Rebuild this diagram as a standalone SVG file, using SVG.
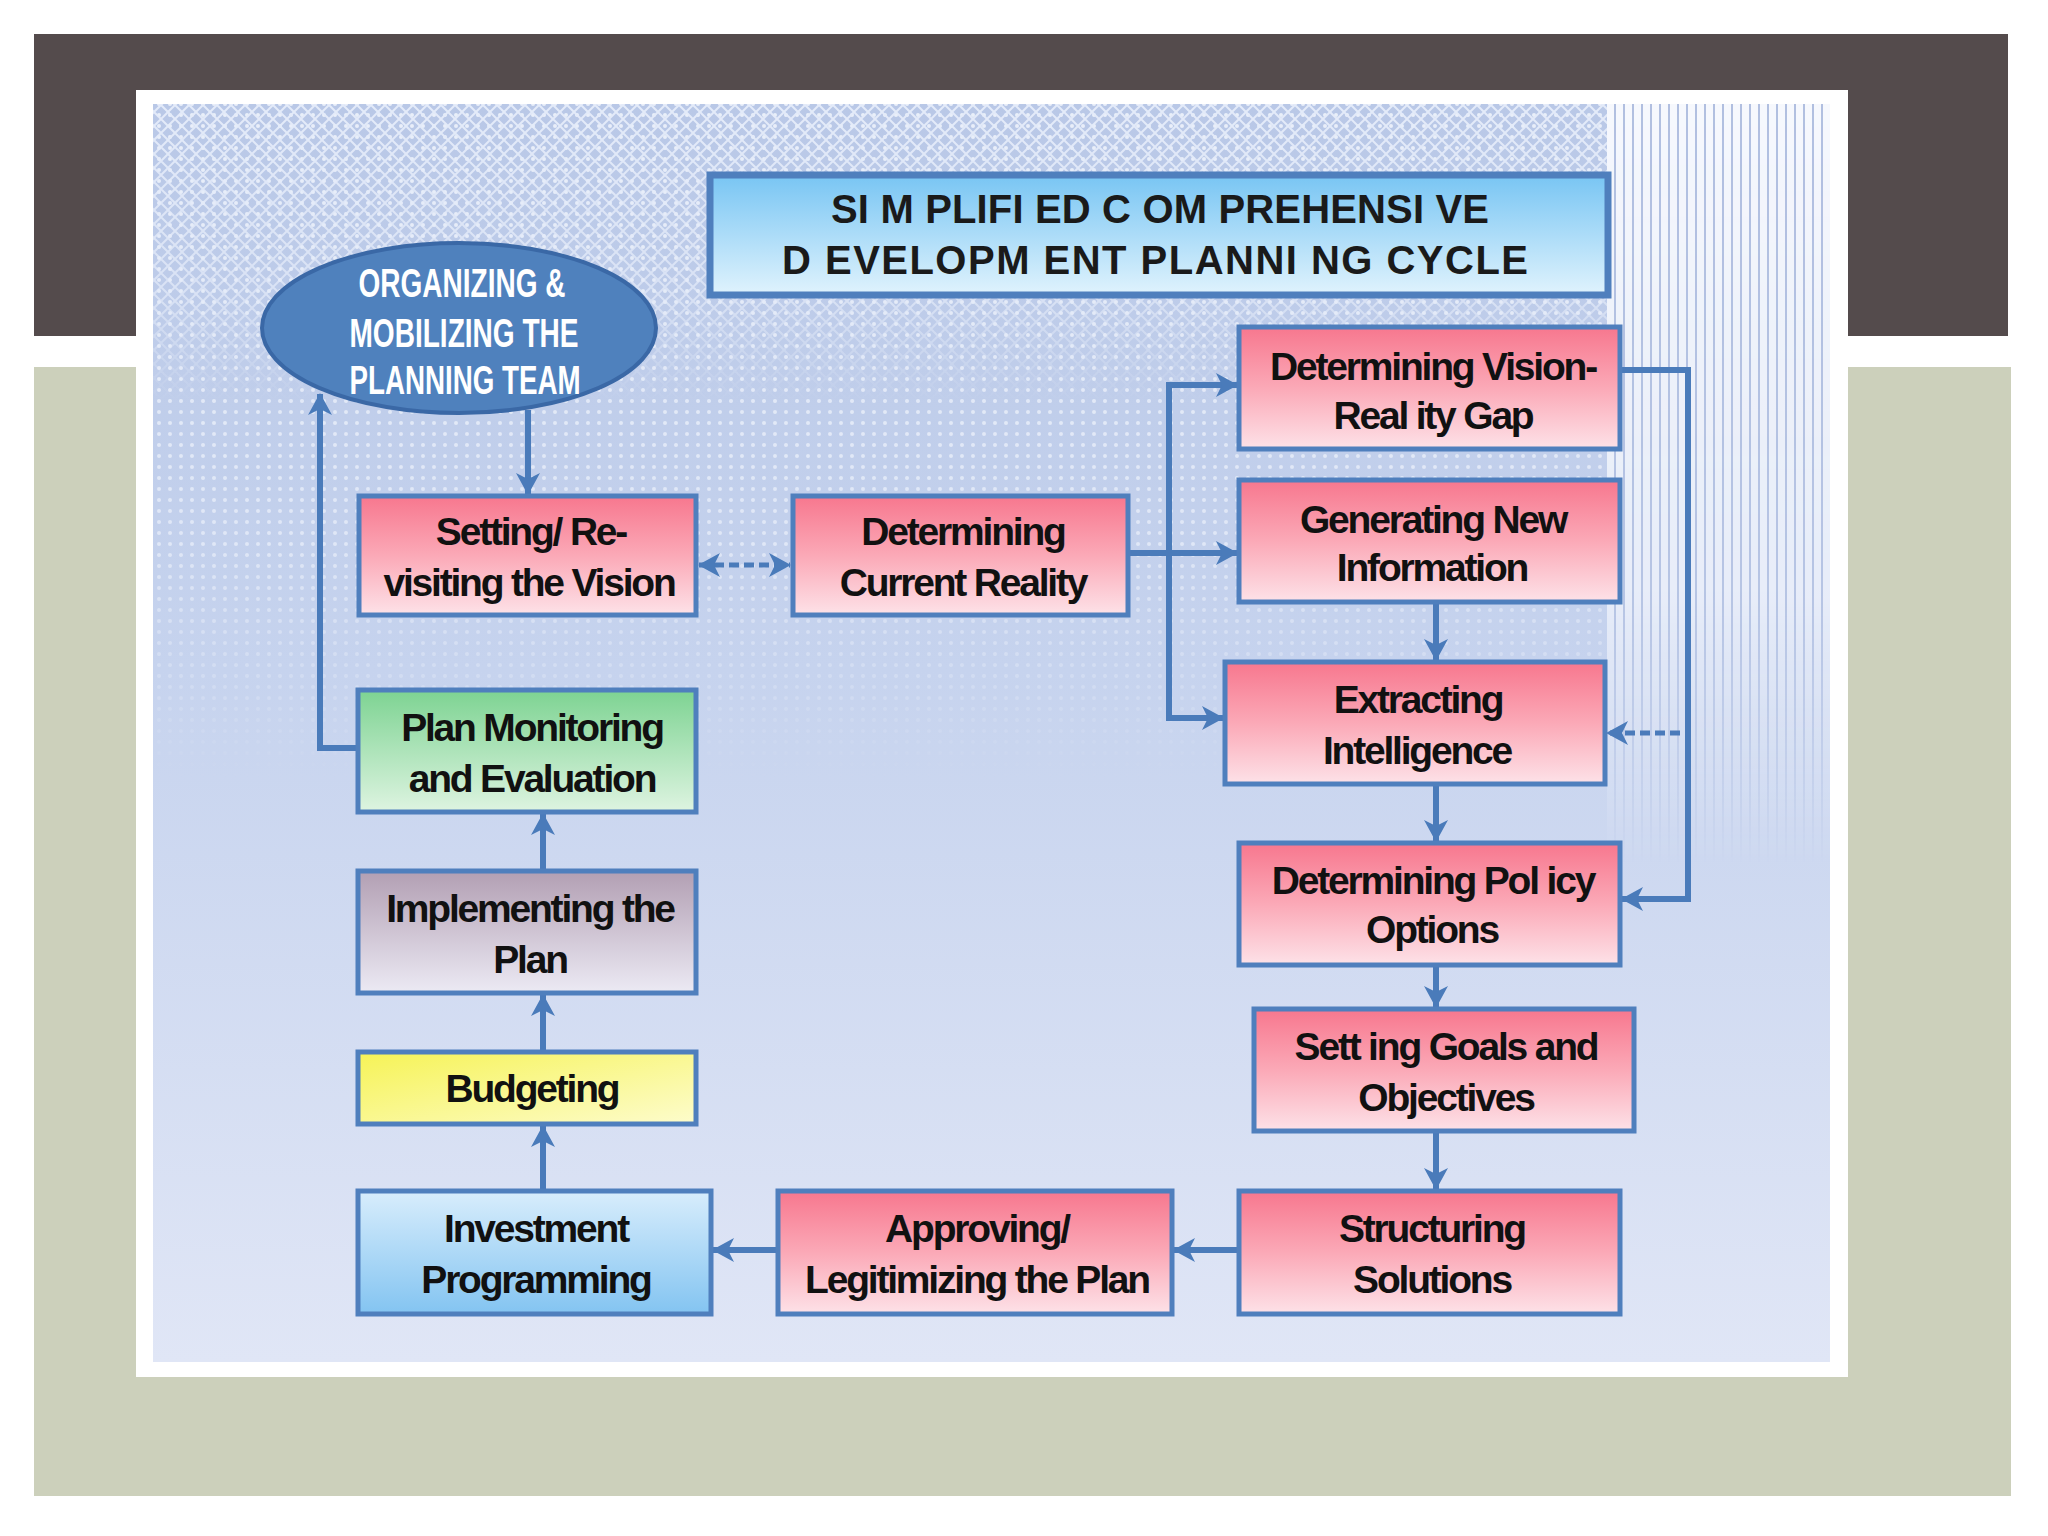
<svg xmlns="http://www.w3.org/2000/svg" width="2048" height="1536" viewBox="0 0 2048 1536">
<style>
.node{stroke:#4f7fbd;stroke-width:5}
.t{font-family:"Liberation Sans",Arial,sans-serif;font-weight:bold;font-size:39px;letter-spacing:-2.2px;fill:#111;text-anchor:middle}
.et{font-family:"Liberation Sans",Arial,sans-serif;font-weight:bold;font-size:40px;fill:#fff;text-anchor:middle}
.tt{font-family:"Liberation Sans",Arial,sans-serif;font-weight:bold;font-size:40px;fill:#1a1a1a;text-anchor:middle}
.c{fill:none;stroke:#4a7bba;stroke-width:6}
.d{stroke-dasharray:10 5;stroke-width:5}
</style>
<defs>
<linearGradient id="gPanel" x1="0" y1="0" x2="0" y2="1">
<stop offset="0" stop-color="#b9c8e7"/><stop offset="0.45" stop-color="#c6d3ee"/><stop offset="1" stop-color="#e0e6f6"/>
</linearGradient>
<linearGradient id="gPink" x1="0" y1="0" x2="0" y2="1">
<stop offset="0" stop-color="#f7778e"/><stop offset="0.5" stop-color="#fba9b7"/><stop offset="1" stop-color="#fde2e8"/>
</linearGradient>
<linearGradient id="gGreen" x1="0" y1="0" x2="0" y2="1">
<stop offset="0" stop-color="#7dd392"/><stop offset="1" stop-color="#def4e1"/>
</linearGradient>
<linearGradient id="gYellow" x1="0" y1="0" x2="1" y2="1">
<stop offset="0" stop-color="#f6f356"/><stop offset="1" stop-color="#fdfccc"/>
</linearGradient>
<linearGradient id="gMauve" x1="0" y1="0" x2="0" y2="1">
<stop offset="0" stop-color="#b29fb3"/><stop offset="1" stop-color="#eceaf4"/>
</linearGradient>
<linearGradient id="gInv" x1="0" y1="0" x2="0" y2="1">
<stop offset="0" stop-color="#d8edfc"/><stop offset="1" stop-color="#83c4f1"/>
</linearGradient>
<linearGradient id="gTitle" x1="0" y1="0" x2="0" y2="1">
<stop offset="0" stop-color="#78c5f3"/><stop offset="1" stop-color="#e0f3fd"/>
</linearGradient>
<linearGradient id="gFade" x1="0" y1="0" x2="0" y2="1">
<stop offset="0" stop-color="#fff"/><stop offset="0.65" stop-color="#fff" stop-opacity="0.7"/><stop offset="1" stop-color="#fff" stop-opacity="0"/>
</linearGradient>
<mask id="mDots" maskUnits="userSpaceOnUse" x="153" y="104" width="1454" height="680">
<rect x="153" y="104" width="1454" height="680" fill="url(#gFade)"/>
</mask>
<mask id="mHatch" maskUnits="userSpaceOnUse" x="153" y="104" width="1454" height="300">
<rect x="153" y="104" width="1454" height="300" fill="url(#gFade)"/>
</mask>
<mask id="mStripe" maskUnits="userSpaceOnUse" x="1607" y="104" width="223" height="760">
<rect x="1607" y="104" width="223" height="760" fill="url(#gFade)"/>
</mask>
<pattern id="pDots" width="11" height="11" patternUnits="userSpaceOnUse">
<circle cx="5" cy="5" r="2" fill="#f2f6fd" fill-opacity="0.85"/>
</pattern>
<pattern id="pHatch" width="14" height="14" patternUnits="userSpaceOnUse">
<path d="M0,0 L14,14 M14,0 L0,14" stroke="#e4ebf9" stroke-width="2"/>
</pattern>
<pattern id="pStripe" width="9" height="20" patternUnits="userSpaceOnUse">
<rect width="9" height="20" fill="#f6f8fd"/>
<rect x="3" width="2" height="20" fill="#b1bfe0"/>
</pattern>
<marker id="ah" markerUnits="userSpaceOnUse" markerWidth="22" markerHeight="24" refX="21" refY="12" orient="auto-start-reverse">
<path d="M0,0 L22,12 L0,24 L6,12 z" fill="#4a7bba"/>
</marker>
</defs>

<g id="background">
<rect width="2048" height="1536" fill="#ffffff"/>
<rect x="34" y="34" width="1974" height="302" fill="#544b4c"/>
<rect x="34" y="367" width="1977" height="1129" fill="#ccd0bb"/>
<rect x="136" y="90" width="1712" height="1287" fill="#ffffff"/>
<rect x="153" y="104" width="1677" height="1258" fill="url(#gPanel)"/>
<rect x="153" y="104" width="1454" height="680" fill="url(#pDots)" mask="url(#mDots)"/>
<rect x="153" y="104" width="1454" height="300" fill="url(#pHatch)" mask="url(#mHatch)"/>
<rect x="1607" y="104" width="223" height="760" fill="url(#pStripe)" mask="url(#mStripe)"/>
</g>

<g id="title">
<rect x="710" y="175" width="898" height="120" fill="url(#gTitle)" stroke="#4f7fbd" stroke-width="7"/>
<text class="tt" x="1160" y="223" textLength="658" lengthAdjust="spacing">SI M PLIFI ED C OM PREHENSI VE</text>
<text class="tt" x="1155" y="274" textLength="746" lengthAdjust="spacing">D EVELOPM ENT PLANNI NG CYCLE</text>
</g>

<g id="connectors">
<path class="c" d="M528,410 V494" marker-end="url(#ah)"/>
<path class="c d" d="M699,565 H790" marker-start="url(#ah)" marker-end="url(#ah)"/>
<path class="c" d="M1128,553 H1237" marker-end="url(#ah)"/>
<path class="c" d="M1169,385 V721"/>
<path class="c" d="M1166,385 H1237" marker-end="url(#ah)"/>
<path class="c" d="M1166,718 H1223" marker-end="url(#ah)"/>
<path class="c" d="M1620,370 H1688 V899 H1622" marker-end="url(#ah)"/>
<path class="c d" d="M1680,733 H1607" marker-end="url(#ah)"/>
<path class="c" d="M1436,602 V660" marker-end="url(#ah)"/>
<path class="c" d="M1436,784 V841" marker-end="url(#ah)"/>
<path class="c" d="M1436,965 V1007" marker-end="url(#ah)"/>
<path class="c" d="M1436,1131 V1189" marker-end="url(#ah)"/>
<path class="c" d="M1239,1250 H1174" marker-end="url(#ah)"/>
<path class="c" d="M778,1250 H713" marker-end="url(#ah)"/>
<path class="c" d="M543,1191 V1126" marker-end="url(#ah)"/>
<path class="c" d="M543,1052 V995" marker-end="url(#ah)"/>
<path class="c" d="M543,871 V814" marker-end="url(#ah)"/>
<path class="c" d="M358,748 H320 V394" marker-end="url(#ah)"/>
</g>

<g id="organizing">
<ellipse cx="459" cy="328" rx="197" ry="85" fill="#4f81bd" stroke="#3a68a6" stroke-width="4"/>
<text class="et" x="462" y="297" textLength="207" lengthAdjust="spacingAndGlyphs">ORGANIZING &amp;</text>
<text class="et" x="464" y="347" textLength="229" lengthAdjust="spacingAndGlyphs">MOBILIZING THE</text>
<text class="et" x="465" y="394" textLength="231" lengthAdjust="spacingAndGlyphs">PLANNING TEAM</text>
</g>

<g id="setting-vision">
<rect class="node" x="359" y="496" width="337" height="119" fill="url(#gPink)"/>
<text class="t" x="531" y="545">Setting/ Re-</text>
<text class="t" x="529" y="596">visiting the Vision</text>
</g>

<g id="current-reality">
<rect class="node" x="793" y="496" width="335" height="119" fill="url(#gPink)"/>
<text class="t" x="963" y="545">Determining</text>
<text class="t" x="963" y="596">Current Reality</text>
</g>

<g id="vision-gap">
<rect class="node" x="1239" y="327" width="381" height="122" fill="url(#gPink)"/>
<text class="t" x="1433" y="380">Determining Vision-</text>
<text class="t" x="1433" y="429">Real ity Gap</text>
</g>

<g id="generating">
<rect class="node" x="1239" y="480" width="381" height="122" fill="url(#gPink)"/>
<text class="t" x="1433" y="533">Generating New</text>
<text class="t" x="1432" y="581">Information</text>
</g>

<g id="extracting">
<rect class="node" x="1225" y="662" width="380" height="122" fill="url(#gPink)"/>
<text class="t" x="1418" y="713">Extracting</text>
<text class="t" x="1417" y="764">Intelligence</text>
</g>

<g id="policy">
<rect class="node" x="1239" y="843" width="381" height="122" fill="url(#gPink)"/>
<text class="t" x="1433" y="894">Determining Pol icy</text>
<text class="t" x="1432" y="943">Options</text>
</g>

<g id="goals">
<rect class="node" x="1254" y="1009" width="380" height="122" fill="url(#gPink)"/>
<text class="t" x="1446" y="1060">Sett ing Goals and</text>
<text class="t" x="1446" y="1111">Objectives</text>
</g>

<g id="structuring">
<rect class="node" x="1239" y="1191" width="381" height="123" fill="url(#gPink)"/>
<text class="t" x="1432" y="1242">Structuring</text>
<text class="t" x="1432" y="1293">Solutions</text>
</g>

<g id="approving">
<rect class="node" x="778" y="1191" width="394" height="123" fill="url(#gPink)"/>
<text class="t" x="977" y="1242">Approving/</text>
<text class="t" x="977" y="1293">Legitimizing the Plan</text>
</g>

<g id="investment">
<rect class="node" x="358" y="1191" width="353" height="123" fill="url(#gInv)"/>
<text class="t" x="536" y="1242">Investment</text>
<text class="t" x="536" y="1293">Programming</text>
</g>

<g id="budgeting">
<rect class="node" x="358" y="1052" width="338" height="72" fill="url(#gYellow)"/>
<text class="t" x="532" y="1102">Budgeting</text>
</g>

<g id="implementing">
<rect class="node" x="358" y="871" width="338" height="122" fill="url(#gMauve)"/>
<text class="t" x="530" y="922">Implementing the</text>
<text class="t" x="530" y="973">Plan</text>
</g>

<g id="monitoring">
<rect class="node" x="358" y="690" width="338" height="122" fill="url(#gGreen)"/>
<text class="t" x="532" y="741">Plan Monitoring</text>
<text class="t" x="532" y="792">and Evaluation</text>
</g>
</svg>
